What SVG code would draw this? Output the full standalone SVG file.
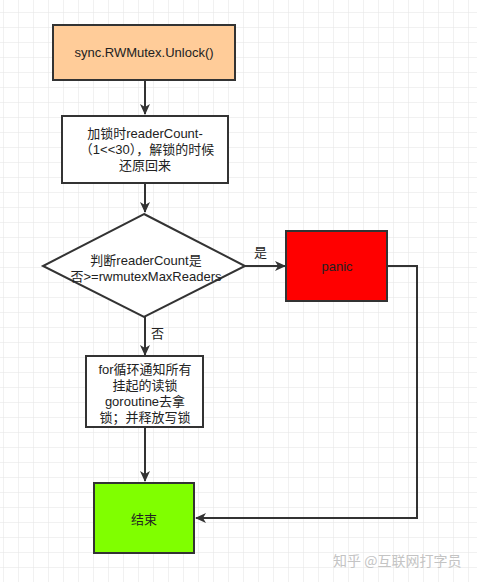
<svg xmlns="http://www.w3.org/2000/svg" width="477" height="582" viewBox="0 0 477 582">
<defs>
<pattern id="grid" x="3" y="12" width="15" height="15" patternUnits="userSpaceOnUse">
<path d="M0 0H15M0 0V15" fill="none" stroke="#e4e4e4" stroke-width="1"/>
</pattern>
<marker id="arr" markerWidth="12" markerHeight="10" refX="10" refY="5" orient="auto" markerUnits="userSpaceOnUse">
<path d="M0 0L11 5L0 10L3 5Z" fill="#333"/>
</marker>
<style>
.box{stroke:#333;stroke-width:2}
.t{font-family:"Liberation Sans","Noto Sans CJK SC",sans-serif;font-size:13px;fill:#222;text-anchor:middle}
.c{fill:none;stroke:#333;stroke-width:2;marker-end:url(#arr)}
.l{font-family:"Liberation Sans","Noto Sans CJK SC",sans-serif;font-size:13px;fill:#222}
</style>
</defs>
<rect width="477" height="582" fill="#fff"/>
<rect width="477" height="582" fill="url(#grid)"/>
<g id="connectors">
<path class="c" d="M145 80V114"/>
<path class="c" d="M145 183V212"/>
<path class="c" d="M245 266H285"/>
<path class="c" d="M145 317V355"/>
<path class="c" d="M145 427V481"/>
<path class="c" d="M387 266H417V518H196"/>
<text class="l" x="254" y="257">是</text>
<text class="l" x="151" y="338">否</text>
</g>
<g id="start">
<rect class="box" x="53" y="25" width="182" height="55" fill="#FFCC99"/>
<text class="t" x="144" y="57">sync.RWMutex.Unlock()</text>
</g>
<g id="restore">
<rect class="box" x="62" y="116" width="166" height="67" fill="#fff"/>
<text class="t" x="145" y="138">加锁时readerCount-</text>
<text class="t" x="147" y="154">（1&lt;&lt;30），解锁的时候</text>
<text class="t" x="145" y="170">还原回来</text>
</g>
<g id="check">
<path class="box" d="M144 214L245 266L144 317L43 266Z" fill="#fff"/>
<text class="t" x="146" y="265">判断readerCount是</text>
<text class="t" x="146" y="281">否&gt;=rwmutexMaxReaders</text>
</g>
<g id="panic">
<rect class="box" x="286" y="231" width="101" height="70" fill="#FF0000"/>
<text class="t" x="337" y="271" fill="#333">panic</text>
</g>
<g id="notify">
<rect class="box" x="86" y="356" width="117" height="71" fill="#fff"/>
<text class="t" x="145" y="374">for循环通知所有</text>
<text class="t" x="145" y="390">挂起的读锁</text>
<text class="t" x="145" y="406">goroutine去拿</text>
<text class="t" x="145" y="422">锁；并释放写锁</text>
</g>
<g id="end">
<rect class="box" x="94" y="483" width="100" height="70" fill="#80FF00"/>
<text class="t" x="144" y="524">结束</text>
</g>
<text x="333" y="566" font-family="'Noto Sans CJK SC',sans-serif" font-size="14" fill="#c4c4c4">知乎 @互联网打字员</text>
</svg>
